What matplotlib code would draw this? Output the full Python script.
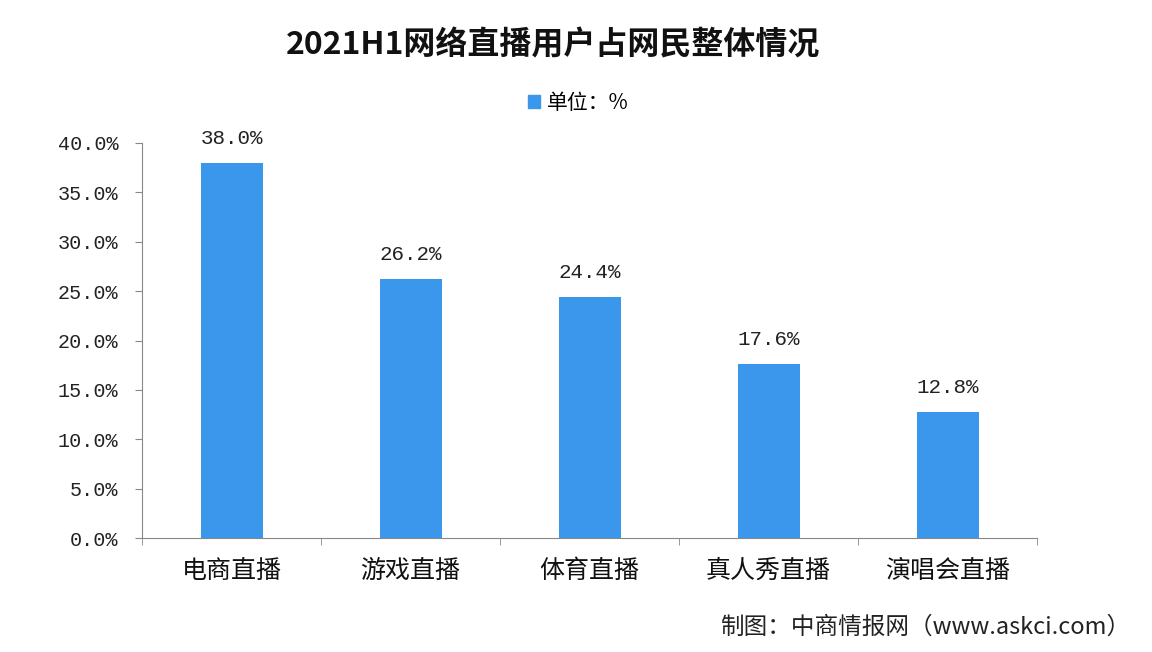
import matplotlib
matplotlib.use("Agg")
import matplotlib.pyplot as plt
from matplotlib.patches import Patch

plt.rcParams['font.family'] = ['Noto Sans CJK SC', 'DejaVu Sans']

categories = ["电商直播", "游戏直播", "体育直播", "真人秀直播", "演唱会直播"]
values = [38.0, 26.2, 24.4, 17.6, 12.8]
yticks = [0, 5, 10, 15, 20, 25, 30, 35, 40]
title = "2021H1网络直播用户占网民整体情况"
legend_label = "单位：%"
source = "制图：中商情报网（www.askci.com）"

bar_color = "#3a97ec"
mono = ['Liberation Mono', 'DejaVu Sans Mono']

fig = plt.figure(figsize=(11.52, 6.52), dpi=100)
ax = fig.add_axes([142/1152, 1-538/652, 895/1152, 395/652])

x = list(range(len(categories)))
ax.bar(x, values, width=62/179, color=bar_color, zorder=3)
for xi, v in zip(x, values):
    ax.text(xi, v + 1.5, f"{v:.1f}%", ha="center", va="bottom", fontsize=15,
            family=mono, color="#222222")

ax.set_xlim(-0.5, len(categories) - 0.5)
ax.set_ylim(0, 40)
ax.set_yticks(yticks)
ax.set_yticklabels([f"{t:.1f}%" for t in yticks], family=mono,
                   fontsize=14.5, color="#222222")
ax.set_xticks(x)
ax.set_xticklabels(categories, fontsize=18, color="#111111")
ax.set_xticks([i - 0.5 for i in range(len(categories) + 1)], minor=True)
ax.tick_params(axis='x', which='major', length=0, pad=14)
ax.tick_params(axis='x', which='minor', length=5, color="#888888")
ax.tick_params(axis='y', length=5, color="#888888", pad=12)
for s in ["top", "right"]:
    ax.spines[s].set_visible(False)
ax.spines["left"].set_color("#888888")
ax.spines["bottom"].set_color("#888888")

fig.text(553/1152, 1-45/652, title, ha="center", va="center", fontsize=23, fontweight="bold",
         color="#111111")
fig.legend(handles=[Patch(color=bar_color, label=legend_label)], loc="center",
           bbox_to_anchor=(578/1152, 1-103/652), frameon=False, fontsize=15,
           handlelength=0.6, handleheight=0.6, handletextpad=0.3)
fig.text(1130/1152, 1-627/652, source, ha="right", va="center", fontsize=17, color="#222222")

fig.savefig("out.png", dpi=100, facecolor="white")
